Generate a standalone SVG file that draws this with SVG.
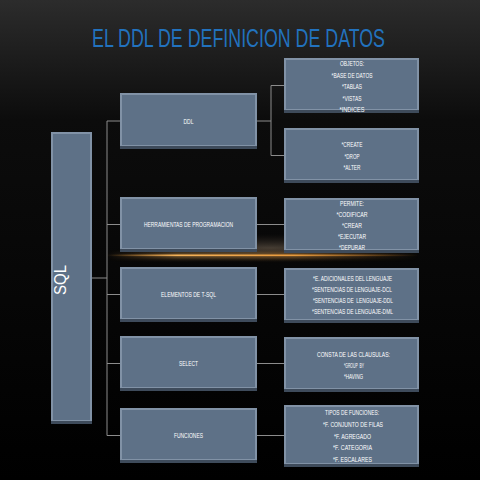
<svg xmlns="http://www.w3.org/2000/svg" width="480" height="480" viewBox="0 0 480 480">
<defs>
<linearGradient id="bg" x1="0" y1="0" x2="0" y2="1">
<stop offset="0" stop-color="#2c2c2c"/>
<stop offset="0.25" stop-color="#0c0c0c"/>
<stop offset="1" stop-color="#000"/>
</linearGradient>
<linearGradient id="gold" x1="0" y1="0" x2="1" y2="0">
<stop offset="0.12" stop-color="#f2a444" stop-opacity="0"/>
<stop offset="0.3" stop-color="#f5b35a"/>
<stop offset="0.6" stop-color="#e89a3c"/>
<stop offset="0.92" stop-color="#c07828" stop-opacity="0"/>
</linearGradient>
<radialGradient id="spot" cx="0.5" cy="0.5" r="0.5">
<stop offset="0" stop-color="#7a6a58" stop-opacity="0.55"/>
<stop offset="1" stop-color="#3a3028" stop-opacity="0"/>
</radialGradient>
<filter id="blur" x="-20%" y="-200%" width="140%" height="500%"><feGaussianBlur stdDeviation="2"/></filter>
</defs>
<style>
.edgeD{fill:#3e4b5b}
.edgeL{fill:#8192a6}
.face{fill:#5e7187}
.t{font-family:"Liberation Sans",Arial,sans-serif;font-size:7px;fill:#ffffff;text-anchor:middle;white-space:pre}
.conn{stroke:#8c8c8c;stroke-width:1;fill:none}
</style>
<rect width="480" height="480" fill="url(#bg)"/>
<ellipse cx="270" cy="248" rx="150" ry="14" fill="url(#spot)"/>
<rect x="60" y="253" width="390" height="5" fill="url(#gold)" opacity="0.5" filter="url(#blur)"/>
<rect x="60" y="254.5" width="390" height="1.6" fill="url(#gold)"/>

<text x="92" y="47" font-family="Liberation Sans, Arial, sans-serif" font-size="26" fill="#2272be" textLength="293" lengthAdjust="spacingAndGlyphs">EL DDL DE DEFINICION DE DATOS</text>

<g id="connectors">
<path class="conn" d="M92,278H107M107,121V435.5M107,121H120M107,224.5H120M107,294.5H120M107,363.5H120M107,435.5H120"/>
<path class="conn" d="M257,121H271M271,85.5V155.5M271,85.5H284M271,155.5H284"/>
<path class="conn" d="M257,224.5H284M257,294.5H284M257,363.5H284M257,435.5H284"/>
</g>

<g id="sql">
<rect class="edgeD" x="51" y="132" width="41" height="292"/>
<rect class="edgeL" x="51" y="132" width="41" height="289"/>
<rect class="face" x="53" y="134" width="37" height="286"/>
<text transform="translate(66,280) rotate(-90)" font-family="Liberation Sans, Arial, sans-serif" font-size="16.5" fill="#ffffff" text-anchor="middle" textLength="30" lengthAdjust="spacingAndGlyphs">SQL</text>
</g>

<g id="ddl">
<rect class="edgeD" x="120" y="93" width="137" height="56"/>
<rect class="edgeL" x="120" y="93" width="137" height="53"/>
<rect class="face" x="122" y="95" width="133" height="50"/>
<text class="t" x="188.5" y="123.5" textLength="10" lengthAdjust="spacingAndGlyphs">DDL</text>
</g>
<g id="herramientas">
<rect class="edgeD" x="120" y="197" width="137" height="55"/>
<rect class="edgeL" x="120" y="197" width="137" height="52"/>
<rect class="face" x="122" y="199" width="133" height="49"/>
<text class="t" x="188.5" y="227" textLength="89" lengthAdjust="spacingAndGlyphs">HERRAMIENTAS DE PROGRAMACION</text>
</g>
<g id="elementos">
<rect class="edgeD" x="120" y="267" width="137" height="55"/>
<rect class="edgeL" x="120" y="267" width="137" height="52"/>
<rect class="face" x="122" y="269" width="133" height="49"/>
<text class="t" x="188.5" y="297" textLength="55" lengthAdjust="spacingAndGlyphs">ELEMENTOS DE T-SQL</text>
</g>
<g id="select">
<rect class="edgeD" x="120" y="336" width="137" height="55"/>
<rect class="edgeL" x="120" y="336" width="137" height="52"/>
<rect class="face" x="122" y="338" width="133" height="49"/>
<text class="t" x="188.5" y="366" textLength="19" lengthAdjust="spacingAndGlyphs">SELECT</text>
</g>
<g id="funciones">
<rect class="edgeD" x="120" y="408" width="137" height="55"/>
<rect class="edgeL" x="120" y="408" width="137" height="52"/>
<rect class="face" x="122" y="410" width="133" height="49"/>
<text class="t" x="188.5" y="438" textLength="29" lengthAdjust="spacingAndGlyphs">FUNCIONES</text>
</g>

<g id="objetos">
<rect class="edgeD" x="284" y="58" width="135" height="55"/>
<rect class="edgeL" x="284" y="58" width="135" height="52"/>
<rect class="face" x="286" y="60" width="131" height="49"/>
<text class="t" x="352" y="65.5" textLength="24" lengthAdjust="spacingAndGlyphs">OBJETOS:</text>
<text class="t" x="352" y="77.5" textLength="41" lengthAdjust="spacingAndGlyphs">*BASE DE DATOS</text>
<text class="t" x="352" y="88.5" textLength="20" lengthAdjust="spacingAndGlyphs">*TABLAS</text>
<text class="t" x="352" y="100.5" textLength="19" lengthAdjust="spacingAndGlyphs">*VISTAS</text>
<text class="t" x="352" y="111.5" textLength="25" lengthAdjust="spacingAndGlyphs">*INDICES</text>
</g>
<g id="comandos">
<rect class="edgeD" x="284" y="128" width="135" height="55"/>
<rect class="edgeL" x="284" y="128" width="135" height="52"/>
<rect class="face" x="286" y="130" width="131" height="49"/>
<text class="t" x="352" y="146.5" textLength="21" lengthAdjust="spacingAndGlyphs">*CREATE</text>
<text class="t" x="352" y="158.5" textLength="15" lengthAdjust="spacingAndGlyphs">*DROP</text>
<text class="t" x="352" y="169.5" textLength="17" lengthAdjust="spacingAndGlyphs">*ALTER</text>
</g>
<g id="permite">
<rect class="edgeD" x="284" y="198" width="135" height="55"/>
<rect class="edgeL" x="284" y="198" width="135" height="52"/>
<rect class="face" x="286" y="200" width="131" height="49"/>
<text class="t" x="352" y="205.5" textLength="24" lengthAdjust="spacingAndGlyphs">PERMITE:</text>
<text class="t" x="352" y="216.5" textLength="31" lengthAdjust="spacingAndGlyphs">*CODIFICAR</text>
<text class="t" x="352" y="227.5" textLength="20" lengthAdjust="spacingAndGlyphs">*CREAR</text>
<text class="t" x="352" y="238.5" textLength="28" lengthAdjust="spacingAndGlyphs">*EJECUTAR</text>
<text class="t" x="352" y="250" textLength="26" lengthAdjust="spacingAndGlyphs">*DEPURAR</text>
</g>
<g id="lenguaje">
<rect class="edgeD" x="284" y="268" width="135" height="55"/>
<rect class="edgeL" x="284" y="268" width="135" height="52"/>
<rect class="face" x="286" y="270" width="131" height="49"/>
<text class="t" x="352.5" y="280.5" textLength="79" lengthAdjust="spacingAndGlyphs">*E. ADICIONALES DEL LENGUAJE</text>
<text class="t" x="352" y="291.5" textLength="80" lengthAdjust="spacingAndGlyphs">*SENTENCIAS DE LENGUAJE-DCL</text>
<text class="t" x="353" y="302.5" textLength="80" lengthAdjust="spacingAndGlyphs">*SENTENCIAS DE  LENGUAJE-DDL</text>
<text class="t" x="352.5" y="313.5" textLength="81" lengthAdjust="spacingAndGlyphs">*SENTENCIAS DE LENGUAJE-DML</text>
</g>
<g id="clausulas">
<rect class="edgeD" x="284" y="337" width="135" height="55"/>
<rect class="edgeL" x="284" y="337" width="135" height="52"/>
<rect class="face" x="286" y="339" width="131" height="49"/>
<text class="t" x="353.5" y="356.5" textLength="73" lengthAdjust="spacingAndGlyphs">CONSTA DE LAS CLAUSULAS:</text>
<text class="t" x="354" y="367.5" textLength="20" lengthAdjust="spacingAndGlyphs">*GROUP  BY</text>
<text class="t" x="353.5" y="378.5" textLength="19" lengthAdjust="spacingAndGlyphs">*HAVING</text>
</g>
<g id="tipos">
<rect class="edgeD" x="284" y="405" width="135" height="62"/>
<rect class="edgeL" x="284" y="405" width="135" height="59"/>
<rect class="face" x="286" y="407" width="131" height="56"/>
<text class="t" x="352" y="414.5" textLength="54" lengthAdjust="spacingAndGlyphs">TIPOS DE FUNCIONES:</text>
<text class="t" x="353" y="426.5" textLength="60" lengthAdjust="spacingAndGlyphs">*F. CONJUNTO DE FILAS</text>
<text class="t" x="352.5" y="438.5" textLength="37" lengthAdjust="spacingAndGlyphs">*F. AGREGADO</text>
<text class="t" x="352.5" y="449.5" textLength="39" lengthAdjust="spacingAndGlyphs">*F. CATEGORIA</text>
<text class="t" x="352.5" y="461.5" textLength="39" lengthAdjust="spacingAndGlyphs">*F. ESCALARES</text>
</g>
</svg>
